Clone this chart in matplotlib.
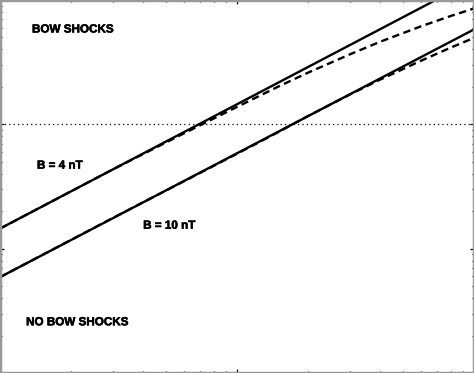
import matplotlib
matplotlib.use("Agg")
import matplotlib.pyplot as plt
import matplotlib.patheffects as pe

# solid lines: straight power laws, so two end points are enough
x_solid = [1, 100]
y_b4_solid = [0.145, 14.5]
y_b10_solid = [0.059, 5.8]

# dashed lines: bend away from the solid ones at large x
x_dash = [1, 3, 6, 10, 15, 20, 30, 40, 60, 80, 100]
y_b4_dash = [0.145, 0.435, 0.85, 1.38, 2.02, 2.61, 3.66, 4.60, 6.16, 7.45, 8.55]
y_b10_dash = [0.059, 0.177, 0.35, 0.58, 0.87, 1.17, 1.74, 2.28, 3.26, 4.15, 4.96]

# horizontal threshold (dotted)
y_limit = 1.0

plt.rcParams['font.family'] = ['Liberation Sans', 'DejaVu Sans']

fig = plt.figure(figsize=(4.74, 3.73), dpi=100)
ax = fig.add_axes([0, 0, 1, 1])
ax.set_xscale('log')
ax.set_yscale('log')
ax.set_xlim(1, 100)
ax.set_ylim(0.01, 10)

ax.plot(x_solid, y_b4_solid, color='black', lw=1.7, solid_capstyle='butt')
ax.plot(x_solid, y_b10_solid, color='black', lw=1.7, solid_capstyle='butt')
ax.plot(x_dash, y_b4_dash, color='black', lw=1.7, dashes=(3.1, 1.9))
ax.plot(x_dash, y_b10_dash, color='black', lw=1.7, dashes=(3.1, 1.9))
ax.axhline(y_limit, color='black', lw=0.9, dashes=(1.0, 2.5))

# text labels (a thin stroke makes them as heavy as in the original)
style = dict(transform=ax.transAxes, fontsize=8.4, fontweight='bold', ha='left', va='center',
             path_effects=[pe.withStroke(linewidth=0.4, foreground='black')])
ax.text(0.0675, 0.921, 'BOW SHOCKS', **style)
ax.text(0.078, 0.556, 'B = 4 nT', **style)
ax.text(0.302, 0.395, 'B = 10 nT', **style)
ax.text(0.055, 0.136, 'NO BOW SHOCKS', **style)

# frame and ticks on all sides, no labels
for s in ax.spines.values():
    s.set_color('0.6')
    s.set_linewidth(2.5)
ax.tick_params(which='both', direction='in', top=True, right=True,
               labelbottom=False, labelleft=False, color='black', width=0.9)
ax.tick_params(which='major', length=3.0)
ax.tick_params(which='minor', length=1.6)

fig.savefig('out.png', dpi=100)
